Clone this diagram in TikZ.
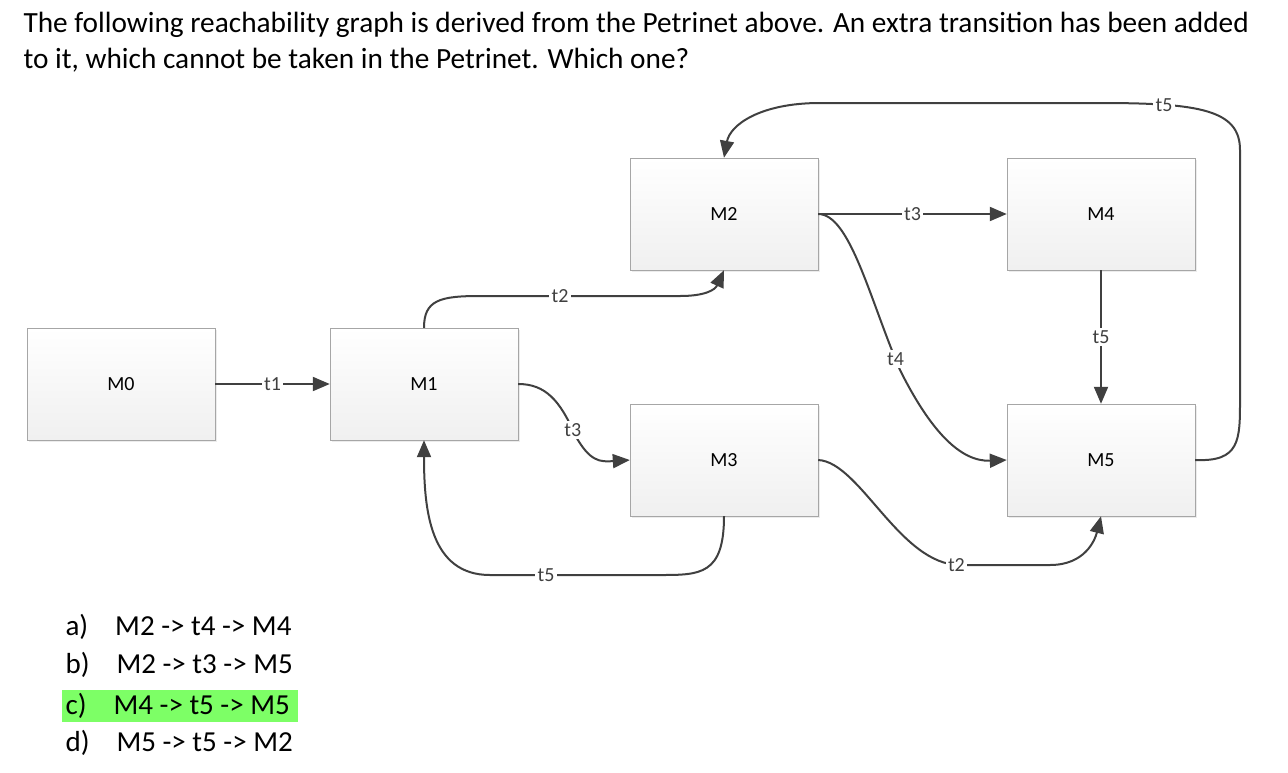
\documentclass[tikz,border=0pt]{standalone}
\usepackage{fontspec}
\setmainfont{Carlito}
\usetikzlibrary{arrows.meta,shadows}
\definecolor{edge}{HTML}{404040}
\begin{document}
\begin{tikzpicture}[x=1pt,y=-1pt,
  st/.style={draw=gray!70,top color=white,bottom color=gray!12,minimum width=188pt,minimum height=112pt,inner sep=0pt,font=\fontsize{20}{24}\selectfont,drop shadow={opacity=0.15,shadow xshift=2pt,shadow yshift=-2pt}},
  ed/.style={draw=edge,line width=2pt,-{Triangle[length=17pt,width=14pt]}},
  lb/.style={fill=white,inner sep=2.5pt,font=\fontsize{20}{24}\selectfont,text=edge},
  ans/.style={anchor=west,font=\fontsize{29}{32}\selectfont}]
\useasboundingbox (0,0) rectangle (1288,772);
\node[anchor=west,font=\fontsize{29.3}{34}\selectfont] (t1) at (20,25) {The following reachability graph is derived from the Petrinet above. An extra transition has been added};
\node[anchor=west,font=\fontsize{29.3}{34}\selectfont] (t2) at (20,60) {to it, which cannot be taken in the Petrinet. Which one?};
\node[st] (M0) at (121,384) {M0};
\node[st] (M1) at (424,384) {M1};
\node[st] (M2) at (724,214) {M2};
\node[st] (M3) at (724,460) {M3};
\node[st] (M4) at (1101,214) {M4};
\node[st] (M5) at (1101,460) {M5};
\draw[ed] (M0.east) -- node[lb]{t1} (M1.west);
\draw[ed] (M1.north) .. controls (424,300) and (440,296) .. (480,296) -- node[lb,pos=0.4]{t2} (680,296) .. controls (705,296) and (715,290) .. (M2.south);
\draw[ed] (M1.east) .. controls (545,384) and (560,400) .. node[lb,pos=0.95]{t3} (575,435) .. controls (590,462) and (600,462) .. (M3.west);
\draw[ed] (M3.south) .. controls (724,575) and (700,575) .. (660,575) -- node[lb,pos=0.67]{t5} (490,575) .. controls (430,575) and (424,510) .. (M1.south);
\draw[ed] (M2.east) -- node[lb]{t3} (M4.west);
\draw[ed] (M2.east) .. controls (850,214) and (870,300) .. node[lb,pos=0.95]{t4} (900,370) .. controls (930,430) and (960,462) .. (M5.west);
\draw[ed] (M4.south) -- node[lb,pos=0.5]{t5} (M5.north);
\draw[ed] (M3.east) .. controls (860,462) and (900,565) .. node[lb,pos=0.98]{t2} (960,565) -- (1050,565) .. controls (1085,565) and (1095,540) .. (M5.south);
\draw[ed] (M5.east) .. controls (1240,462) and (1240,440) .. (1240,400) -- (1240,150) .. controls (1240,110) and (1200,103) .. node[lb,pos=0.75]{t5} (1100,103) -- (820,103) .. controls (760,103) and (730,125) .. (M2.north);
\fill[fill=green!85!yellow!60] (62,690) rectangle (298,722);
\node[ans] (a) at (62,627) {a)\hspace{27pt}M2 -> t4 -> M4};
\node[ans] (b) at (62,665) {b)\hspace{27pt}M2 -> t3 -> M5};
\node[ans] (c) at (62,706) {c)\hspace{27pt}M4 -> t5 -> M5};
\node[ans] (d) at (62,743) {d)\hspace{27pt}M5 -> t5 -> M2};
\end{tikzpicture}
\end{document}
